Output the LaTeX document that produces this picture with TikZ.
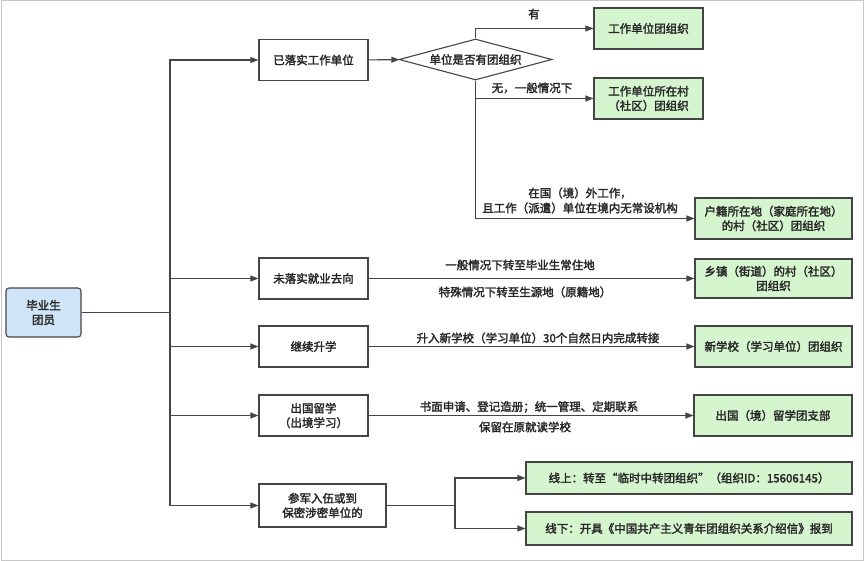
\documentclass[tikz,border=0pt]{standalone}
\usepackage{fontspec}
\setmainfont{Noto Sans CJK SC}[AutoFakeBold=2.2]
\usetikzlibrary{arrows.meta,shapes.geometric}
\definecolor{gfill}{HTML}{D5F5CF}
\definecolor{bfill}{HTML}{CFE5F7}
\definecolor{ln}{HTML}{454545}
\definecolor{tx}{HTML}{262626}
\begin{document}
\begin{tikzpicture}[x=1pt,y=-1pt,
  every node/.style={font=\fontsize{11.5}{14.5}\selectfont\bfseries, text=tx, align=center, inner sep=0pt},
  wbox/.style={draw=ln, line width=1.1pt, fill=white},
  gbox/.style={draw=ln, line width=1.1pt, fill=gfill},
  lbl/.style={font=\fontsize{11.5}{15}\selectfont\bfseries},
  arr/.style={draw=ln, line width=1.1pt, -{Triangle[length=8pt,width=6pt]}},
  con/.style={draw=ln, line width=1.1pt}]
\useasboundingbox (0,0) rectangle (864,561);
\draw[gray!45, line width=1pt] (1,1) rectangle (863,560);

% root
\node[draw=ln, line width=1.1pt, fill=bfill, rounded corners=3pt, minimum width=75pt, minimum height=49pt] (root) at (43.5,312.5) {毕业生\\团员};

% level 1
\node[wbox, minimum width=109pt, minimum height=41pt] (a1) at (313.5,60) {已落实工作单位};
\node[wbox, minimum width=109pt, minimum height=41pt] (a2) at (313.5,278.5) {未落实就业去向};
\node[wbox, minimum width=109pt, minimum height=41pt] (a3) at (313.5,346.5) {继续升学};
\node[wbox, minimum width=109pt, minimum height=41pt] (a4) at (313.5,415.5) {出国留学\\（出境学习）};
\node[wbox, minimum width=127pt, minimum height=43pt] (a5) at (322.5,505.5) {参军入伍或到\\保密涉密单位的};

% decision
\node[draw=ln, line width=1.1pt, fill=white, diamond, aspect=3.7, minimum width=153pt, minimum height=41pt] (dia) at (475.5,59.5) {单位是否有团组织};

% targets
\node[gbox, minimum width=109pt, minimum height=41pt] (g1) at (648.5,28.5) {工作单位团组织};
\node[gbox, minimum width=109pt, minimum height=41pt] (g2) at (648.5,98.5) {工作单位所在村\\（社区）团组织};
\node[gbox, minimum width=157pt, minimum height=41pt] (g3) at (773.5,218.5) {户籍所在地（家庭所在地）\\的村（社区）团组织};
\node[gbox, minimum width=157pt, minimum height=39pt] (g4) at (773.5,278.5) {乡镇（街道）的村（社区）\\团组织};
\node[gbox, minimum width=157pt, minimum height=41pt] (g5) at (773.5,346.5) {新学校（学习单位）团组织};
\node[gbox, minimum width=158pt, minimum height=41pt] (g6) at (773,415.5) {出国（境）留学团支部};
\node[gbox, minimum width=326pt, minimum height=32pt] (g7) at (689,478) {线上：转至“临时中转团组织”（组织ID：15606145）};
\node[gbox, minimum width=326pt, minimum height=33pt] (g8) at (689,528.5) {线下：开具《中国共产主义青年团组织关系介绍信》报到};

% trunk
\coordinate (tr) at (170,312.5);
\draw[con] (root) -- (tr);
\draw[arr] (tr) |- (a1);
\draw[arr] (tr) |- (a2);
\draw[arr] (tr) |- (a3);
\draw[arr] (tr) |- (a4);
\draw[arr] (tr) |- (a5);

% decision branch
\draw[arr] (a1) -- (dia);
\draw[arr] (dia.north) |- (g1.west);
\draw[arr] (dia.south) |- (g2.west);
\draw[arr] (dia.south) |- (g3.west);
\node[lbl] (l1) at (534,14) {有};
\node[lbl] (l2) at (532,88) {无，一般情况下};
\node[lbl] (l3) at (580,200.5) {在国（境）外工作，\\且工作（派遣）单位在境内无常设机构};

% other rows
\draw[arr] (a2.east) -- (a2.east -| g4.west);
\node[lbl] (l4) at (520,265) {一般情况下转至毕业生常住地};
\node[lbl] (l5) at (525,292) {特殊情况下转至生源地（原籍地）};
\draw[arr] (a3.east) -- (a3.east -| g5.west);
\node[lbl] (l6) at (538,338) {升入新学校（学习单位）30个自然日内完成转接};
\draw[arr] (a4.east) -- (a4.east -| g6.west);
\node[lbl] (l7) at (529,407) {书面申请、登记造册；统一管理、定期联系};
\node[lbl] (l8) at (525,427) {保留在原就读学校};

% military split
\coordinate (sp) at (455,505.5);
\draw[con] (a5) -- (sp);
\draw[arr] (sp) |- (g7);
\draw[arr] (sp) |- (g8);
\end{tikzpicture}
\end{document}
